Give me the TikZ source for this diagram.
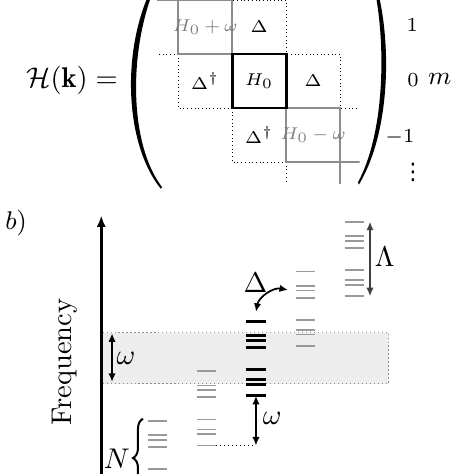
\documentclass[tikz,border=0pt]{standalone}
\usepackage{amsmath}
\usepackage{fontspec}
\newfontfamily\dejavu{DejaVu Sans}
\usetikzlibrary{arrows.meta,decorations.pathreplacing}

\begin{document}
\begin{tikzpicture}[
  >={Latex[length=3pt,width=2.6pt]},
  cell/.style={minimum size=0.667cm,inner sep=0pt,font=\fontsize{6}{7}\selectfont},
  diagtext/.style={cell,text=black!50},
  diagline/.style={draw=black!45,line width=0.5pt},
  rowbox/.style={densely dotted,line width=0.3pt},
  lvl/.style={draw=black!40,line width=0.6pt},
  lvlzero/.style={draw=black,line width=1pt}
]
  \useasboundingbox (0,0) rectangle (5.852,-5.852);

  % a) block matrix
  \node (hk) at (0.89,-0.99) {$\mathcal{H}(\mathbf{k}) =$};

  \begin{scope}
    \clip (1.94,0.1) rectangle (4.44,-2.26);
    \foreach \m in {2,1,0,-1,-2} {
      \pgfmathsetmacro{\xl}{2.2+(1-\m)*0.6667}
      \pgfmathsetmacro{\yt}{-(1-\m)*0.6667}
      \draw[rowbox] (\xl-0.6667,\yt) rectangle ++(2.0,-0.6667);
    }
    \foreach \m in {2,1,-1,-2} {
      \pgfmathsetmacro{\xl}{2.2+(1-\m)*0.6667}
      \pgfmathsetmacro{\yt}{-(1-\m)*0.6667}
      \draw[diagline] (\xl,\yt) rectangle ++(0.6667,-0.6667);
    }
  \end{scope}

  \node[diagtext] (dp1) at (2.5333,-0.3333) {$H_0\,{+}\,\omega$};
  \node[cell] (rp1) at (3.2,-0.3333) {$\Delta$};
  \node[cell] (l0) at (2.5333,-1.0) {$\Delta^\dagger$};
  \node[cell,draw,line width=1pt] (d0) at (3.2,-1.0) {$H_0$};
  \node[cell] (r0) at (3.8667,-1.0) {$\Delta$};
  \node[cell] (lm1) at (3.2,-1.6667) {$\Delta^\dagger$};
  \node[diagtext] (dm1) at (3.8667,-1.6667) {$H_0\,{-}\,\omega$};

  \fill (1.90,0.2) .. controls (1.50,-0.55) and (1.52,-1.75) .. (1.985,-2.33)
    -- (2.0,-2.31) .. controls (1.575,-1.75) and (1.595,-0.55) .. (1.93,0.2) -- cycle;
  \fill (4.64,0.2) .. controls (4.83,-0.45) and (4.84,-1.6) .. (4.43,-2.28)
    -- (4.42,-2.25) .. controls (4.77,-1.6) and (4.76,-0.45) .. (4.61,0.2) -- cycle;

  \node[font=\scriptsize] (mp1) at (5.09,-0.31) {$1$};
  \node[font=\scriptsize] (m0) at (5.10,-0.99) {$0$};
  \node[font=\small] (mlab) at (5.43,-0.97) {$m$};
  \node[font=\scriptsize,anchor=east,inner sep=1pt] (mm1) at (5.16,-1.69) {$-1$};
  \node[font=\dejavu\fontsize{8}{8}\selectfont,inner sep=0pt] (mdots) at (5.10,-2.13) {⋮};

  % b) levels
  \node[font=\small] (blab) at (0.20,-2.75) {$b)$};

  \node[draw=black!45,densely dotted,fill=black!7,minimum width=3.53cm,minimum height=0.629cm,
    inner sep=0pt,anchor=north west] (band) at (1.26,-4.099) {};

  \coordinate (axbot) at (1.25,-5.95);
  \coordinate (axtop) at (1.25,-2.66);
  \draw[->,line width=1pt,>={Latex[length=4pt,width=3.2pt]}] (axbot) -- (axtop);
  \node[rotate=90] (freq) at (0.80,-4.47) {Frequency};

  \coordinate (wbtop) at (1.383,-4.115);
  \coordinate (wbbot) at (1.383,-4.715);
  \draw[<->,line width=0.6pt] (wbtop) -- (wbbot);
  \node (wband) at (1.556,-4.43) {$\omega$};

  \foreach \k in {0,1,3,4}
    \foreach \o in {0,0.179,0.235,0.325,0.599,0.722,0.778,0.920}
      \draw[lvl] (1.827+0.608*\k,-5.194+0.614*\k-\o) -- ++(0.235,0);
  \foreach \o in {0,0.179,0.235,0.325,0.599,0.722,0.778,0.920}
    \draw[lvlzero] (3.043,-3.966-\o) -- ++(0.235,0);

  \coordinate (wtop) at (3.16,-4.886);
  \coordinate (wbot) at (3.16,-5.50);
  \coordinate (lastb) at (2.67,-5.50);
  \draw[<->,line width=0.6pt] (wtop) -- (wbot);
  \draw[densely dotted,line width=0.4pt] (lastb) -- (wbot);
  \node (wlow) at (3.36,-5.16) {$\omega$};

  \coordinate (lamtop) at (4.568,-2.737);
  \coordinate (lambot) at (4.568,-3.657);
  \draw[<->,draw=black!75,line width=0.6pt] (lamtop) -- (lambot);
  \node (lam) at (4.75,-3.17) {$\Lambda$};

  \node (delta) at (3.154,-3.488) {$\Delta$};
  \coordinate (dright) at (3.556,-3.58);
  \coordinate (ddown) at (3.16,-3.85);
  \draw[<->,line width=0.6pt] (dright) to[bend right=45] (ddown);

  \coordinate (nbot) at (1.765,-6.14);
  \coordinate (ntop) at (1.765,-5.17);
  \draw[decorate,decoration={brace,amplitude=3.5pt},line width=0.7pt] (nbot) -- (ntop);
  \node (nlab) at (1.444,-5.667) {$N$};

\end{tikzpicture}
\end{document}
